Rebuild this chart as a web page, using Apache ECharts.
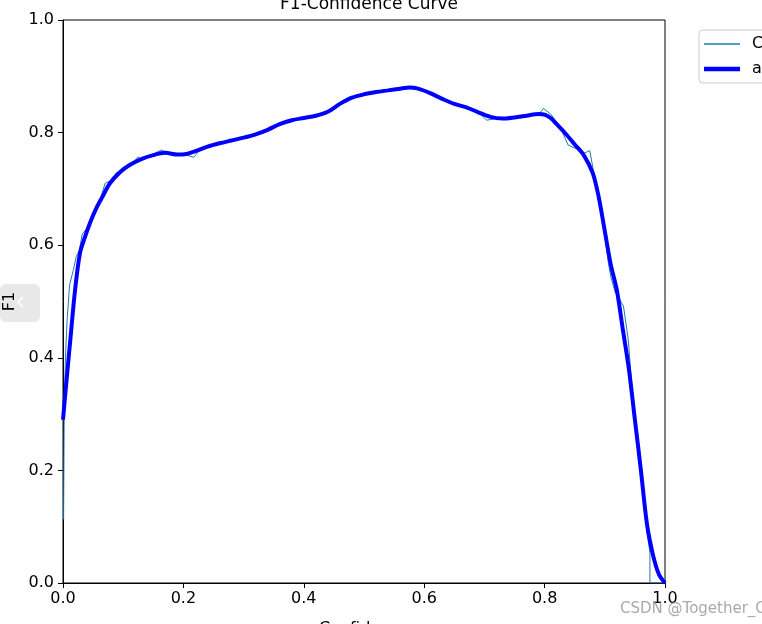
<!DOCTYPE html>
<html>
<head>
<meta charset="utf-8">
<script src="https://cdn.jsdelivr.net/npm/echarts@6/dist/echarts.min.js"></script>
<style>html,body{margin:0;padding:0;background:#fff;}#c{width:762px;height:624px;}</style>
</head>
<body>
<div id="c"></div>
<script>
const titleText = 'F1-Confidence Curve';
const xName = 'Confidence';
const yName = 'F1';
const classLabel = 'Class 0.88 at 0.575';
const allLabel = 'all classes 0.88 at 0.575';
const xTicks = [0, 0.2, 0.4, 0.6, 0.8, 1.0];

// thin line (single class)
const classConf = [0.001,0.002,0.004,0.007,0.011,0.017,0.022,0.027,0.032,0.04,0.05,0.06,0.07,0.08,0.088,0.10,0.113,0.125,0.13,0.145,0.163,0.175,0.19,0.205,0.217,0.228,0.245,0.26,0.28,0.30,0.32,0.34,0.36,0.38,0.40,0.42,0.44,0.46,0.48,0.50,0.52,0.54,0.56,0.575,0.59,0.61,0.63,0.65,0.67,0.69,0.704,0.72,0.75,0.77,0.79,0.798,0.81,0.825,0.839,0.855,0.865,0.875,0.887,0.895,0.906,0.91,0.917,0.931,0.939,0.945,0.952,0.96,0.968,0.975,0.975,1.0];
const classF1 = [0.113,0.30,0.40,0.47,0.53,0.555,0.58,0.59,0.62,0.63,0.655,0.675,0.71,0.715,0.728,0.735,0.743,0.757,0.75,0.759,0.769,0.764,0.760,0.760,0.756,0.770,0.776,0.781,0.786,0.791,0.797,0.806,0.817,0.821,0.826,0.830,0.837,0.853,0.861,0.868,0.872,0.875,0.878,0.880,0.878,0.870,0.860,0.851,0.845,0.836,0.822,0.825,0.827,0.830,0.832,0.843,0.833,0.812,0.778,0.770,0.763,0.768,0.698,0.657,0.568,0.544,0.517,0.492,0.432,0.35,0.27,0.19,0.11,0.053,0.0,0.0];

// thick line (all classes)
const allConf = [0,0.005,0.012,0.02,0.028,0.035,0.045,0.055,0.065,0.078,0.095,0.11,0.13,0.15,0.17,0.19,0.205,0.22,0.24,0.26,0.28,0.30,0.32,0.34,0.36,0.38,0.40,0.42,0.44,0.46,0.48,0.50,0.52,0.54,0.56,0.575,0.59,0.61,0.63,0.65,0.67,0.69,0.71,0.73,0.75,0.77,0.79,0.80,0.81,0.82,0.835,0.85,0.865,0.88,0.89,0.90,0.91,0.92,0.93,0.94,0.95,0.96,0.97,0.98,0.99,1.0];
const allF1 = [0.29,0.35,0.43,0.52,0.585,0.61,0.64,0.665,0.685,0.71,0.73,0.742,0.753,0.760,0.764,0.761,0.762,0.767,0.775,0.781,0.786,0.791,0.797,0.805,0.815,0.822,0.826,0.830,0.837,0.851,0.862,0.868,0.872,0.875,0.878,0.880,0.878,0.870,0.860,0.851,0.845,0.836,0.828,0.825,0.827,0.830,0.833,0.832,0.826,0.815,0.798,0.779,0.760,0.728,0.685,0.625,0.565,0.52,0.45,0.38,0.29,0.20,0.105,0.05,0.015,0.0];

const pair = (xs, ys) => xs.map((x, i) => [x, ys[i]]);

const chart = echarts.init(document.getElementById('c'), null, {renderer: 'canvas'});
const font = 'DejaVu Sans';
chart.setOption({
  animation: false,
  backgroundColor: '#fff',
  title: {
    text: titleText, left: 364, top: -9, textAlign: 'center',
    textStyle: {fontFamily: font, fontSize: 17, fontWeight: 'normal', color: '#000'}
  },
  legend: {
    orient: 'vertical', left: 699, top: 30,
    padding: [6, 8, 6, 5], itemGap: 9, itemWidth: 36, itemHeight: 14,
    backgroundColor: '#fff', borderColor: '#cccccc', borderWidth: 1, borderRadius: 4,
    textStyle: {fontFamily: font, fontSize: 16, color: '#000', padding: [0, 0, 0, 7]},
    data: [
      {name: classLabel, icon: 'path://M0,0H36V1.5H0Z'},
      {name: allLabel, icon: 'path://M0,0H36V4.5H0Z'}
    ]
  },
  grid: {left: 63, top: 20, right: 97, bottom: 41, show: true, borderColor: '#000', borderWidth: 1,
         containLabel: false, outerBoundsMode: 'none'},
  xAxis: {
    type: 'value', min: 0, max: 1, interval: 0.2,
    name: xName, nameLocation: 'middle', nameGap: 38,
    nameTextStyle: {fontFamily: font, fontSize: 16, color: '#000'},
    axisLine: {show: true, lineStyle: {color: '#000', width: 1}},
    axisTick: {show: true, length: 5, lineStyle: {color: '#000'}},
    axisLabel: {fontFamily: font, fontSize: 16, color: '#000', margin: 8, formatter: v => v.toFixed(1)},
    splitLine: {show: false}
  },
  yAxis: {
    type: 'value', min: 0, max: 1, interval: 0.2,
    name: yName, nameLocation: 'middle', nameGap: 39,
    nameTextStyle: {fontFamily: font, fontSize: 16, color: '#000'},
    axisLine: {show: true, lineStyle: {color: '#000', width: 1}},
    axisTick: {show: true, length: 5, lineStyle: {color: '#000'}},
    axisLabel: {fontFamily: font, fontSize: 16, color: '#000', margin: 9, formatter: v => v.toFixed(1)},
    splitLine: {show: false}
  },
  graphic: [
    {type: 'rect', z: -10, shape: {x: 0, y: 284, width: 40, height: 38, r: 6}, style: {fill: '#e8e8e8'}},
    {type: 'polyline', z: -9, shape: {points: [[23, 297], [18, 302], [23, 307]]}, style: {stroke: '#ffffff', lineWidth: 1.5, fill: null}},
    {type: 'text', left: 620, top: 602, z: 100, style: {text: 'CSDN @Together_CZ', fontFamily: font, fontSize: 15, fill: 'rgba(140,140,140,0.75)'}}
  ],
  series: [
    {name: classLabel, type: 'line', data: pair(classConf, classF1), showSymbol: false, symbol: 'none',
     lineStyle: {color: '#1f77b4', width: 1}, itemStyle: {color: '#1f77b4'}, z: 2},
    {name: allLabel, type: 'line', data: pair(allConf, allF1), showSymbol: false, symbol: 'none', smooth: 0.3,
     lineStyle: {color: '#0000ff', width: 4}, itemStyle: {color: '#0000ff'}, z: 3}
  ]
});
</script>
</body>
</html>
